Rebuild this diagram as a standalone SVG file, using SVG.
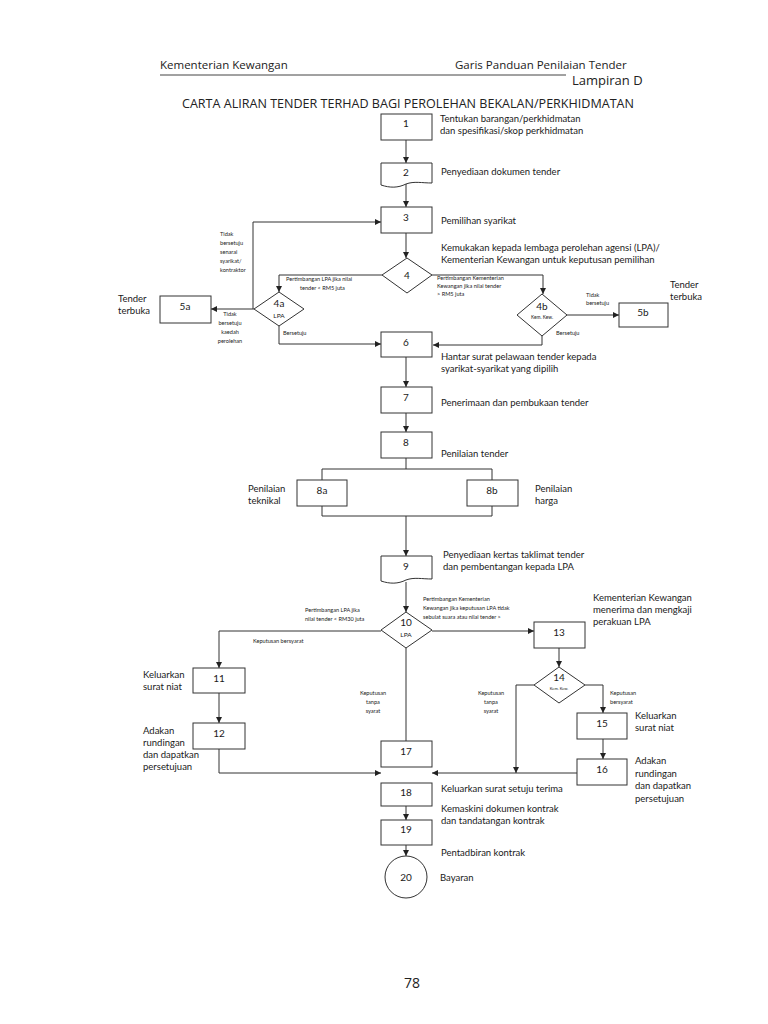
<svg xmlns="http://www.w3.org/2000/svg" width="768" height="1024" viewBox="0 0 768 1024">
<style>
.hd{font-family:"Open Sans","Liberation Sans",sans-serif;fill:#222}
.t{font-family:Lato,"Open Sans","Liberation Sans",sans-serif;font-size:9.5px;fill:#1a1a1a}
.s{font-family:Lato,"Open Sans","Liberation Sans",sans-serif;font-size:5.6px;fill:#1a1a1a}
.n{font-family:Lato,"Open Sans","Liberation Sans",sans-serif;font-size:10px;fill:#1a1a1a;text-anchor:middle}
.n7{font-size:6.5px}
.n5{font-size:4.8px}
.n4{font-size:4px}
.c{text-anchor:middle}
.b{fill:#fff;stroke:#333;stroke-width:1}
.l{fill:none;stroke:#333;stroke-width:1}
</style>
<defs>
<marker id="a" viewBox="0 0 6 6" refX="6" refY="3" markerWidth="6" markerHeight="6" markerUnits="userSpaceOnUse" orient="auto"><path d="M0,0 L6,3 L0,6 z" fill="#222"/></marker>
</defs>
<rect width="768" height="1024" fill="#fff"/>
<g id="header">
<text class="hd" x="160" y="69" font-size="11.5">Kementerian Kewangan</text>
<text class="hd" x="455" y="69" font-size="11.5">Garis Panduan Penilaian Tender</text>
<line x1="160" y1="75" x2="566" y2="75" stroke="#444" stroke-width="1"/>
<text class="hd" x="572" y="85" font-size="13">Lampiran D</text>
<text class="hd" x="182" y="108" font-size="13" textLength="452" lengthAdjust="spacingAndGlyphs">CARTA ALIRAN TENDER TERHAD BAGI PEROLEHAN BEKALAN/PERKHIDMATAN</text>
</g>
<g id="connectors" class="l">
<path d="M406,140 V163" marker-end="url(#a)"/>
<path d="M406,184 V207" marker-end="url(#a)"/>
<path d="M406,233 V258" marker-end="url(#a)"/>
<path d="M382,275 H279 V292" marker-end="url(#a)"/>
<path d="M254,309 H211" marker-end="url(#a)"/>
<path d="M253,309 V222 H381" marker-end="url(#a)"/>
<path d="M279,326 V344 H381" marker-end="url(#a)"/>
<path d="M432,275 H543 V294" marker-end="url(#a)"/>
<path d="M567,315 H619" marker-end="url(#a)"/>
<path d="M542,336 V345 H433" marker-end="url(#a)"/>
<path d="M406,357 V387" marker-end="url(#a)"/>
<path d="M406,413 V432" marker-end="url(#a)"/>
<path d="M406,458 V469"/>
<path d="M322,480 V469 H492 V480"/>
<path d="M322,506 V516 H492 V506"/>
<path d="M406,516 V556" marker-end="url(#a)"/>
<path d="M406,582 V612" marker-end="url(#a)"/>
<path d="M381,631 H219 V668" marker-end="url(#a)"/>
<path d="M432,631 H534" marker-end="url(#a)"/>
<path d="M406,648 V741"/>
<path d="M559,648 V667" marker-end="url(#a)"/>
<path d="M534,685 H516 V773" marker-end="url(#a)"/>
<path d="M585,685 H603 V713" marker-end="url(#a)"/>
<path d="M603,739 V759" marker-end="url(#a)"/>
<path d="M577,773 H432" marker-end="url(#a)"/>
<path d="M219,693 V723" marker-end="url(#a)"/>
<path d="M219,749 V773 H381" marker-end="url(#a)"/>
<path d="M406,806 V820" marker-end="url(#a)"/>
<path d="M406,845 V856" marker-end="url(#a)"/>
</g>
<g id="conn-labels">
<text class="s" x="286" y="281">Pertimbangan LPA jika nilai</text>
<text class="s" x="300" y="290">tender &lt; RM5 juta</text>
<text class="s" x="220" y="236">Tidak</text>
<text class="s" x="220" y="245">bersetuju</text>
<text class="s" x="220" y="254">senarai</text>
<text class="s" x="220" y="263">syarikat/</text>
<text class="s" x="220" y="272">kontraktor</text>
<text class="s c" x="230" y="316">Tidak</text>
<text class="s c" x="230" y="325">bersetuju</text>
<text class="s c" x="230" y="334">kaedah</text>
<text class="s c" x="230" y="343">perolehan</text>
<text class="s" x="283" y="335">Bersetuju</text>
<text class="s" x="437" y="280">Pertimbangan Kementerian</text>
<text class="s" x="437" y="288">Kewangan jika nilai tender</text>
<text class="s" x="437" y="296">&gt; RM5 juta</text>
<text class="s" x="586" y="297">Tidak</text>
<text class="s" x="586" y="305">bersetuju</text>
<text class="s" x="556" y="335">Bersetuju</text>
<text class="s" x="305" y="612">Pertimbangan LPA jika</text>
<text class="s" x="305" y="621">nilai tender &lt; RM30 juta</text>
<text class="s" x="423" y="601">Pertimbangan Kementerian</text>
<text class="s" x="423" y="610">Kewangan jika keputusan LPA tidak</text>
<text class="s" x="423" y="619">sebulat suara atau nilai tender &gt;</text>
<text class="s" x="253" y="643">Keputusan bersyarat</text>
<text class="s c" x="373" y="695">Keputusan</text>
<text class="s c" x="373" y="704">tanpa</text>
<text class="s c" x="373" y="713">syarat</text>
<text class="s c" x="491" y="695">Keputusan</text>
<text class="s c" x="491" y="704">tanpa</text>
<text class="s c" x="491" y="713">syarat</text>
<text class="s" x="610" y="695">Keputusan</text>
<text class="s" x="610" y="704">bersyarat</text>
</g>
<g id="n1"><rect class="b" x="381" y="114" width="51" height="26"/><text class="n" x="406" y="127">1</text>
<text class="t" x="440" y="122">Tentukan barangan/perkhidmatan</text><text class="t" x="440" y="134">dan spesifikasi/skop perkhidmatan</text></g>
<g id="n2"><path class="b" d="M381,163 H432 V183 C422,183 414,181 406,184 C398,188 390,188 381,185 Z"/><text class="n" x="406" y="176">2</text>
<text class="t" x="441" y="175">Penyediaan dokumen tender</text></g>
<g id="n3"><rect class="b" x="381" y="207" width="51" height="26"/><text class="n" x="406" y="221">3</text>
<text class="t" x="441" y="224">Pemilihan syarikat</text></g>
<g id="n4"><path class="b" d="M407,258 L432,275 L407,293 L382,275 Z"/><text class="n" x="407" y="279">4</text>
<text class="t" x="441" y="251">Kemukakan kepada lembaga perolehan agensi (LPA)/</text><text class="t" x="441" y="263">Kementerian Kewangan untuk keputusan pemilihan</text></g>
<g id="n4a"><path class="b" d="M279,292 L304,309 L279,326 L254,309 Z"/><text class="n" x="279" y="307">4a</text><text class="n n7" x="279" y="318">LPA</text></g>
<g id="n5a"><rect class="b" x="160" y="296" width="51" height="27"/><text class="n" x="185" y="310">5a</text>
<text class="t" x="118" y="302">Tender</text><text class="t" x="118" y="314">terbuka</text></g>
<g id="n4b"><path class="b" d="M542,294 L567,315 L542,336 L517,315 Z"/><text class="n" x="542" y="310">4b</text><text class="n n5" x="542" y="319">Kem. Kew.</text></g>
<g id="n5b"><rect class="b" x="619" y="303" width="49" height="24"/><text class="n" x="643" y="316">5b</text>
<text class="t" x="670" y="288">Tender</text><text class="t" x="670" y="300">terbuka</text></g>
<g id="n6"><rect class="b" x="381" y="332" width="51" height="25"/><text class="n" x="406" y="346">6</text>
<text class="t" x="441" y="360">Hantar surat pelawaan tender kepada</text><text class="t" x="441" y="372">syarikat-syarikat yang dipilih</text></g>
<g id="n7"><rect class="b" x="381" y="387" width="51" height="26"/><text class="n" x="406" y="401">7</text>
<text class="t" x="441" y="406">Penerimaan dan pembukaan tender</text></g>
<g id="n8"><rect class="b" x="381" y="432" width="51" height="26"/><text class="n" x="406" y="446">8</text>
<text class="t" x="441" y="457">Penilaian tender</text></g>
<g id="n8a"><rect class="b" x="297" y="480" width="50" height="26"/><text class="n" x="322" y="494">8a</text>
<text class="t" x="248" y="492">Penilaian</text><text class="t" x="248" y="504">teknikal</text></g>
<g id="n8b"><rect class="b" x="467" y="480" width="51" height="26"/><text class="n" x="492" y="494">8b</text>
<text class="t" x="535" y="492">Penilaian</text><text class="t" x="535" y="504">harga</text></g>
<g id="n9"><path class="b" d="M381,556 H432 V579 C422,579 414,577 406,580 C398,584 390,584 381,581 Z"/><text class="n" x="406" y="570">9</text>
<text class="t" x="443" y="558">Penyediaan kertas taklimat tender</text><text class="t" x="443" y="570">dan pembentangan kepada LPA</text></g>
<g id="n10"><path class="b" d="M406,612 L432,630 L406,648 L381,630 Z"/><text class="n" x="406" y="626">10</text><text class="n n7" x="406" y="637">LPA</text></g>
<g id="n11"><rect class="b" x="193" y="668" width="52" height="25"/><text class="n" x="219" y="682">11</text>
<text class="t" x="143" y="678">Keluarkan</text><text class="t" x="143" y="690">surat niat</text></g>
<g id="n12"><rect class="b" x="193" y="723" width="52" height="26"/><text class="n" x="219" y="737">12</text>
<text class="t" x="143" y="734">Adakan</text><text class="t" x="143" y="746">rundingan</text><text class="t" x="143" y="758">dan dapatkan</text><text class="t" x="143" y="770">persetujuan</text></g>
<g id="n13"><rect class="b" x="534" y="622" width="51" height="26"/><text class="n" x="559" y="636">13</text>
<text class="t" x="593" y="601">Kementerian Kewangan</text><text class="t" x="593" y="613">menerima dan mengkaji</text><text class="t" x="593" y="625">perakuan LPA</text></g>
<g id="n14"><path class="b" d="M559,667 L585,685 L559,703 L534,685 Z"/><text class="n" x="559" y="681">14</text><text class="n n4" x="559" y="690">Kem. Kew.</text></g>
<g id="n15"><rect class="b" x="577" y="713" width="50" height="26"/><text class="n" x="602" y="727">15</text>
<text class="t" x="635" y="719">Keluarkan</text><text class="t" x="635" y="731">surat niat</text></g>
<g id="n16"><rect class="b" x="577" y="759" width="50" height="26"/><text class="n" x="602" y="773">16</text>
<text class="t" x="635" y="764">Adakan</text><text class="t" x="635" y="777">rundingan</text><text class="t" x="635" y="789">dan dapatkan</text><text class="t" x="635" y="802">persetujuan</text></g>
<g id="n17"><rect class="b" x="381" y="741" width="51" height="26"/><text class="n" x="406" y="755">17</text></g>
<g id="n18"><rect class="b" x="381" y="783" width="51" height="23"/><text class="n" x="406" y="796">18</text>
<text class="t" x="441" y="792">Keluarkan surat setuju terima</text></g>
<g id="n19"><rect class="b" x="381" y="820" width="51" height="25"/><text class="n" x="406" y="833">19</text>
<text class="t" x="441" y="812">Kemaskini dokumen kontrak</text><text class="t" x="441" y="824">dan tandatangan kontrak</text>
<text class="t" x="441" y="856">Pentadbiran kontrak</text></g>
<g id="n20"><circle class="b" cx="406" cy="877" r="21"/><text class="n" x="406" y="881">20</text>
<text class="t" x="440" y="881">Bayaran</text></g>
<g id="footer"><text class="hd" x="412" y="988" font-size="14" text-anchor="middle">78</text></g>
</svg>
